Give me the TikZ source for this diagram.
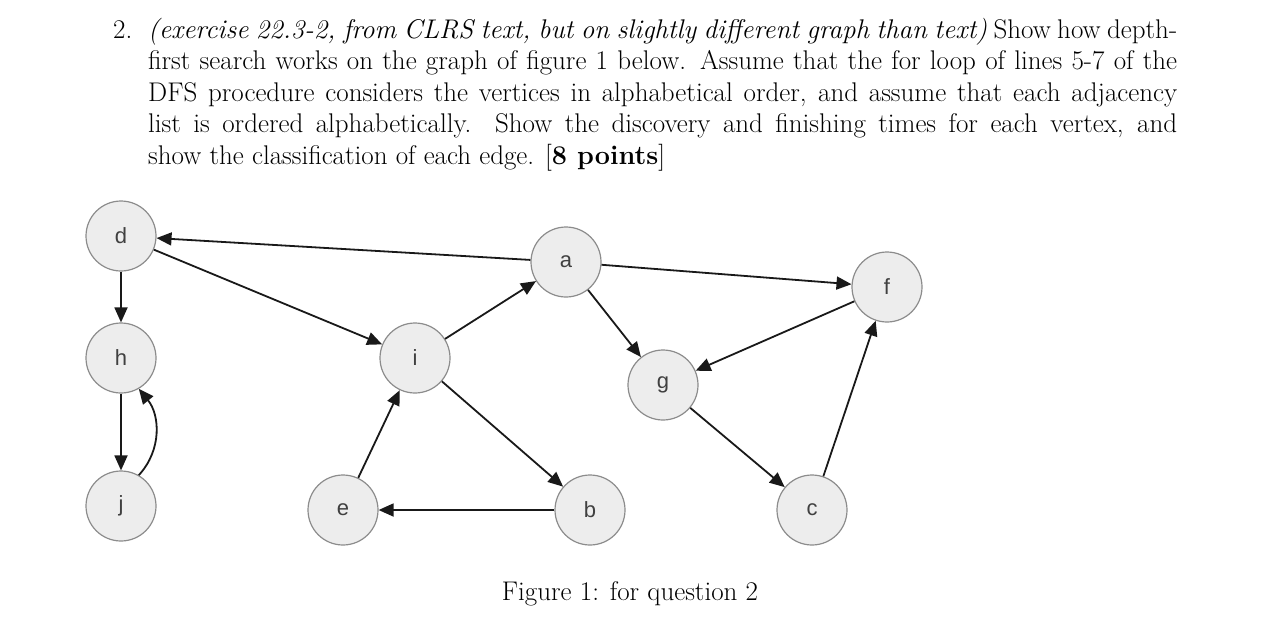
\documentclass[tikz,border=0pt]{standalone}
\usepackage{fontspec}
\newfontfamily\lab{Liberation Sans}
\usetikzlibrary{arrows.meta}
\begin{document}
\begin{tikzpicture}[x=1pt,y=-1pt,
  vtx/.style={circle,draw=black!45,fill=black!7,line width=1.2pt,minimum size=70pt,inner sep=0pt,font=\lab\fontsize{22}{25}\selectfont,text=black!75},
  edge/.style={line width=1.8pt,draw=black!90,-{Triangle[length=15pt,width=13pt]}},
  ln/.style={anchor=base west,inner sep=0pt,font=\fontsize{27}{32}\selectfont}]
\useasboundingbox (0,0) rectangle (1274,629);
\node[ln] (n2) at (113,38) {2.};
\node[ln] (l1) at (148,38) {\hbox to 1029pt{\textit{(exercise 22.3-2, from CLRS text, but on slightly different graph than text)\/} Show how depth-}};
\node[ln] (l2) at (148,69.5) {\hbox to 1029pt{first search works on the graph of figure 1 below. Assume that the for loop of lines 5-7 of the}};
\node[ln] (l3) at (148,101) {\hbox to 1029pt{DFS procedure considers the vertices in alphabetical order, and assume that each adjacency}};
\node[ln] (l4) at (148,132.5) {\hbox to 1029pt{list is ordered alphabetically. Show the discovery and finishing times for each vertex, and}};
\node[ln] (l5) at (148,164) {show the classification of each edge. [\textbf{8 points}]};
\node[anchor=base,inner sep=0pt,font=\fontsize{27}{32}\selectfont] (cap) at (630,600) {Figure 1: for question 2};
\node[vtx] (d) at (121,236) {d};
\node[vtx] (h) at (121,358) {h};
\node[vtx] (j) at (121,506) {j};
\node[vtx] (a) at (566,262) {a};
\node[vtx] (f) at (887,287) {f};
\node[vtx] (i) at (415,358) {i};
\node[vtx] (g) at (663,385) {g};
\node[vtx] (e) at (343,510) {e};
\node[vtx] (b) at (590,510) {b};
\node[vtx] (c) at (812,510) {c};
\draw[edge] (a) -- (d);
\draw[edge] (a) -- (f);
\draw[edge] (d) -- (h);
\draw[edge] (d) -- (i);
\draw[edge] (h) -- (j);
\draw[edge] (j.60) .. controls (162,450) and (160,415) .. (h.-60);
\draw[edge] (i) -- (a);
\draw[edge] (a) -- (g);
\draw[edge] (f) -- (g);
\draw[edge] (i) -- (b);
\draw[edge] (b) -- (e);
\draw[edge] (e) -- (i);
\draw[edge] (g) -- (c);
\draw[edge] (c) -- (f);
\end{tikzpicture}
\end{document}
